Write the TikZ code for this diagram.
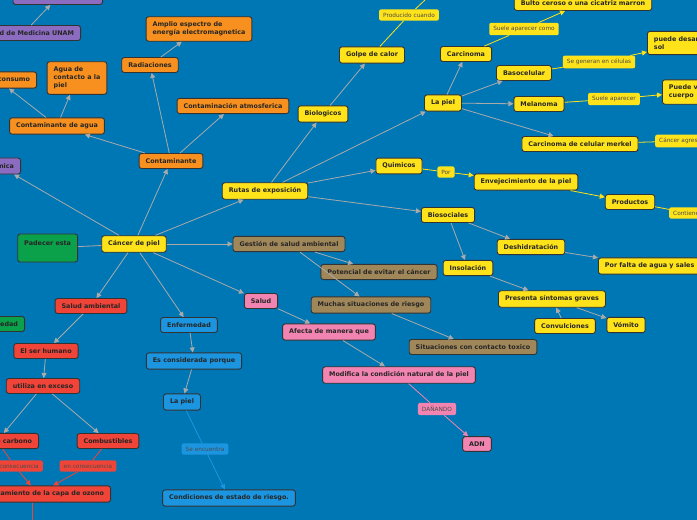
\documentclass[tikz,border=0pt]{standalone}
\usepackage{fontspec}
\setmainfont{DejaVu Sans}
\usetikzlibrary{arrows.meta}
\definecolor{bgc}{HTML}{0077B5}
\definecolor{cy}{HTML}{FFE31A}
\definecolor{co}{HTML}{F7901E}
\definecolor{cp}{HTML}{8B6CC0}
\definecolor{cg}{HTML}{0BA04A}
\definecolor{cb}{HTML}{A0875A}
\definecolor{ck}{HTML}{F284B1}
\definecolor{cr}{HTML}{F04438}
\definecolor{cl}{HTML}{1B95E0}
\definecolor{eg}{HTML}{AAAAAA}
\tikzset{
 box/.style={draw=black!80,line width=0.9pt,rounded corners=2.5pt,font=\fontsize{6.4}{8.2}\selectfont\bfseries,text=black!85,inner xsep=6.5pt,inner ysep=5pt,align=left},
 Y/.style={box,fill=cy}, O/.style={box,fill=co}, P/.style={box,fill=cp}, G/.style={box,fill=cg},
 B/.style={box,fill=cb}, K/.style={box,fill=ck}, R/.style={box,fill=cr}, L/.style={box,fill=cl},
 lab/.style={rounded corners=2pt,font=\fontsize{5.8}{7}\selectfont,text=black!70,inner xsep=4pt,inner ysep=3.4pt},
 e/.style={draw=eg,line width=0.8pt,-{Triangle[length=5pt,width=5pt]}},
 en/.style={draw=eg,line width=0.8pt},
 cA/.style={line width=0.8pt,-{Triangle[length=5pt,width=5pt]}},
}
\begin{document}
\begin{tikzpicture}[x=1pt,y=-1pt]
\fill[bgc] (0,0) rectangle (697,520);
\clip (0,0) rectangle (697,520);
% yellow
\node[Y] (cancer) at (134,244) {Cáncer de piel};
\node[Y] (rutas) at (265,191) {Rutas de exposición};
\node[Y] (bio) at (323,114) {Biologicos};
\node[Y] (golpe) at (372,55) {Golpe de calor};
\node[Y] (lapiel) at (443,103) {La piel};
\node[Y] (carc) at (466,54) {Carcinoma};
\node[Y] (baso) at (524,73) {Basocelular};
\node[Y] (mela) at (539,104) {Melanoma};
\node[Y] (merkel) at (580,144) {Carcinoma de celular merkel};
\node[Y] (bulto) at (583,3) {Bulto ceroso o una cicatriz marron};
\node[Y,anchor=west] (pdesa) at (647,43) {puede desarrollarse\\sol};
\node[Y,anchor=west] (pcuer) at (662,92) {Puede verse\\cuerpo};
\node[Y] (quim) at (399,166) {Quimicos};
\node[Y] (envej) at (526,182) {Envejecimiento de la piel};
\node[Y] (prod) at (630,202) {Productos};
\node[Y] (biosoc) at (448,215) {Biosociales};
\node[Y] (desh) at (531,247) {Deshidratación};
\node[Y,anchor=west] (falta) at (598,266) {Por falta de agua y sales};
\node[Y] (insol) at (468,268) {Insolación};
\node[Y] (pres) at (552,299) {Presenta síntomas graves};
\node[Y] (conv) at (565,326) {Convulciones};
\node[Y] (vom) at (626,325) {Vómito};
\node[lab,fill=cy] (l1) at (409,15) {Producido cuando};
\node[lab,fill=cy] (l2) at (524,29) {Suele aparecer como};
\node[lab,fill=cy] (l3) at (599,62) {Se generan en células};
\node[lab,fill=cy] (l4) at (614,99) {Suele aparecer};
\node[lab,fill=cy,anchor=west] (l5) at (655,141) {Cáncer agresivo};
\node[lab,fill=cy] (l6) at (446,172) {Por};
\node[lab,fill=cy,anchor=west] (l7) at (669,213) {Contienen};
\coordinate (gtop) at (425,0);
% orange
\node[O] (cont) at (171,161) {Contaminante};
\node[O] (atm) at (233,106) {Contaminación atmosferica};
\node[O] (rad) at (150,65) {Radiaciones};
\node[O] (amp) at (199,29) {Amplio espectro de\\energía electromagnetica};
\node[O] (cagua) at (57,126) {Contaminante de agua};
\node[O] (acont) at (77,78) {Agua de\\contacto a la\\piel};
\node[O,anchor=east] (acons) at (37,80) {Agua de consumo};
% purple
\node[P,anchor=east] (unam) at (81,33) {Facultad de Medicina UNAM};
\node[P,anchor=east] (ptop) at (103,-3) {Facultad de Medicina};
\node[P,anchor=east] (pica) at (21,166) {Química};
% green
\node[G,anchor=east,minimum height=28pt,text depth=9pt] (gr1) at (78,248) {Padecer esta};
\node[G,anchor=east] (gr2) at (25,324) {Enfermedad};
% brown
\node[B] (gest) at (289,244) {Gestión de salud ambiental};
\node[B] (pot) at (379,272) {Potencial de evitar el cáncer};
\node[B] (much) at (371,305) {Muchas situaciones de riesgo};
\node[B] (sit) at (473,347) {Situaciones con contacto toxico};
% pink
\node[K] (salud) at (261,301) {Salud};
\node[K] (afec) at (329,332) {Afecta de manera que};
\node[K] (modi) at (399,375) {Modifica la condición natural de la piel};
\node[lab,fill=ck] (l8) at (437,409) {DAÑANDO};
\node[K] (adn) at (477,444) {ADN};
% red
\node[R] (samb) at (91,306) {Salud ambiental};
\node[R] (ser) at (46,351) {El ser humano};
\node[R] (util) at (43,386) {utiliza en exceso};
\node[R,anchor=east] (carb) at (39,441) {Dióxido de carbono};
\node[R] (comb) at (108,441) {Combustibles};
\node[lab,fill=cr] (l9) at (88,466) {en consecuencia};
\node[lab,fill=cr,anchor=east] (l10) at (43,466) {en consecuencia};
\node[R,anchor=east] (ozo) at (111,494) {Adelgazamiento de la capa de ozono};
\coordinate (ozd) at (32,520);
% blue
\node[L] (enf) at (189,325) {Enfermedad};
\node[L] (esc) at (194,361) {Es considerada porque};
\node[L] (lp2) at (182,402) {La piel};
\node[lab,fill=cl] (l11) at (205,449) {Se encuentra};
\node[L] (cond) at (229,498) {Condiciones de estado de riesgo.};
% edges
\draw[e] (cancer) -- (cont);
\draw[e] (cancer) -- (rutas);
\draw[e] (cancer) -- (gest);
\draw[e] (cancer) -- (salud);
\draw[e] (cancer) -- (enf);
\draw[e] (cancer) -- (samb);
\draw[e] (cancer) -- (pica);
\draw[en] (cancer) -- (gr1);
\draw[e] (rutas) -- (bio);
\draw[e] (rutas) -- (lapiel);
\draw[e] (rutas) -- (quim);
\draw[e] (rutas) -- (biosoc);
\draw[e] (bio) -- (golpe);
\draw[cy,line width=0.8pt] (golpe) -- (l1) -- (gtop);
\draw[e] (lapiel) -- (carc);
\draw[e] (lapiel) -- (baso);
\draw[e] (lapiel) -- (mela);
\draw[e] (lapiel) -- (merkel);
\draw[cy,line width=0.8pt] (carc) -- (l2);
\draw[cy,cA] (l2) -- (bulto);
\draw[cy,line width=0.8pt] (baso) -- (l3);
\draw[cy,cA] (l3) -- (pdesa);
\draw[cy,line width=0.8pt] (mela) -- (l4);
\draw[cy,cA] (l4) -- (pcuer);
\draw[cy,line width=0.8pt] (merkel) -- (l5);
\draw[cy,line width=0.8pt] (quim) -- (l6);
\draw[cy,cA] (l6) -- (envej);
\draw[cy,cA] (envej) -- (prod);
\draw[cy,line width=0.8pt] (prod) -- (l7);
\draw[e] (biosoc) -- (desh);
\draw[e] (biosoc) -- (insol);
\draw[e] (desh) -- (falta);
\draw[e] (insol) -- (pres);
\draw[e] (conv) -- (pres);
\draw[e] (pres) -- (vom);
\draw[e] (cont) -- (cagua);
\draw[e] (cont) -- (rad);
\draw[e] (cont) -- (atm);
\draw[e] (rad) -- (amp);
\draw[e] (cagua) -- (acont);
\draw[e] (cagua) -- (acons);
\draw[e] (unam) -- (ptop);
\draw[e] (gest) -- (pot);
\draw[e] (gest) -- (much);
\draw[e] (much) -- (sit);
\draw[e] (salud) -- (afec);
\draw[e] (afec) -- (modi);
\draw[ck,line width=0.8pt] (modi) -- (l8);
\draw[ck,cA] (l8) -- (adn);
\draw[e] (samb) -- (ser);
\draw[e] (ser) -- (util);
\draw[e] (util) -- (carb);
\draw[e] (util) -- (comb);
\draw[cr,line width=0.8pt] (comb) -- (l9);
\draw[cr,cA] (l9) -- (ozo);
\draw[cr,line width=0.8pt] (carb) -- (l10);
\draw[cr,cA] (l10) -- (ozo);
\draw[cr,line width=0.8pt] (ozo.south -| ozd) -- (ozd);
\draw[e] (enf) -- (esc);
\draw[e] (esc) -- (lp2);
\draw[cl,line width=0.8pt] (lp2) -- (l11);
\draw[cl,cA] (l11) -- (cond);
\end{tikzpicture}
\end{document}
